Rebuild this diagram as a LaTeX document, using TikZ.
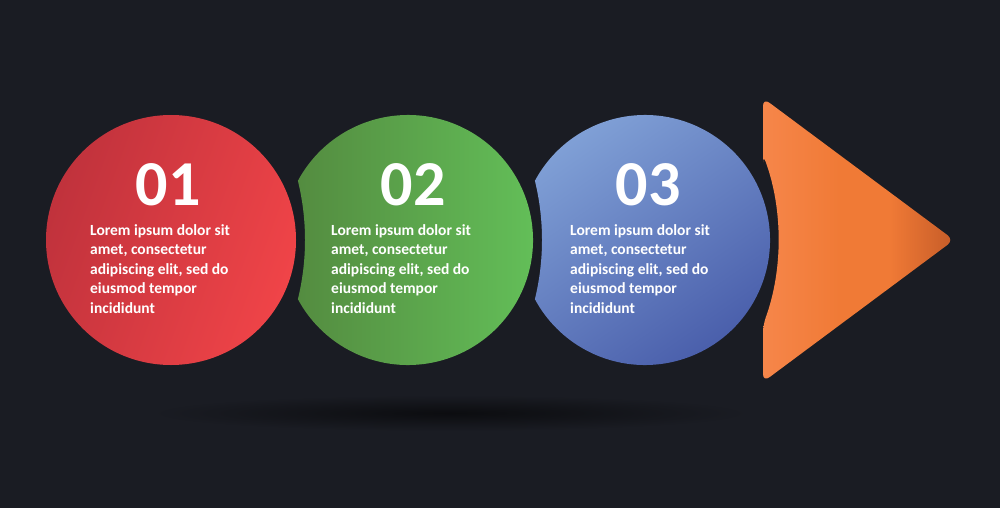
\documentclass[tikz,border=0pt]{standalone}
\usepackage{fontspec}
\setmainfont{Carlito}
\definecolor{bg}{RGB}{26,28,35}
\definecolor{redA}{RGB}{192,50,60}
\definecolor{redB}{RGB}{240,68,72}
\definecolor{greenA}{RGB}{84,140,64}
\definecolor{greenB}{RGB}{100,194,90}
\definecolor{blueA}{RGB}{128,160,214}
\definecolor{blueB}{RGB}{70,90,168}
\definecolor{orA}{RGB}{246,134,74}
\definecolor{orB}{RGB}{240,122,54}
\definecolor{orC}{RGB}{198,92,40}
\pgfdeclarehorizontalshading{orangeshade}{100bp}{color(0bp)=(orA); color(25bp)=(orA); color(45bp)=(orB); color(58bp)=(orB); color(75bp)=(orC); color(100bp)=(orC)}
\begin{document}
\begin{tikzpicture}[x=1pt,y=-1pt,
  num/.style={text=white,font=\bfseries\fontsize{64}{64}\selectfont,anchor=base,inner sep=0pt},
  body/.style={text=white,font=\bfseries\fontsize{15.5}{19.5}\selectfont,align=left,anchor=base west,inner sep=0pt}]
\fill[bg] (0,0) rectangle (1000,508);
\useasboundingbox (0,0) rectangle (1000,508);
% shadow
\shade[inner color=black!55!bg, outer color=bg] (450,413) ellipse[x radius=300, y radius=18];
% orange arrow head
\shade[shading=orangeshade, rounded corners=8pt]
  (763,155) -- (763,98) -- (954,240) -- (763,382) -- (763,325)
  arc[start angle=19.95, end angle=-19.95, radius=250] -- cycle;
% blue
\shade[top color=blueA, bottom color=blueB, shading angle=35]
  (645,240) ++(208.25:125) arc[start angle=208.25, end angle=511.75, radius=125]
  arc[start angle=13.7, end angle=-13.7, radius=250] -- cycle;
% green
\shade[left color=greenA, right color=greenB]
  (408,240) ++(208.25:125) arc[start angle=208.25, end angle=511.75, radius=125]
  arc[start angle=13.7, end angle=-13.7, radius=250] -- cycle;
% red
\shade[left color=redA, right color=redB, shading angle=70] (171,240) circle[radius=125];
% texts
\node[num] (n1) at (168,205) {01};
\node[num] (n2) at (413,205) {02};
\node[num] (n3) at (648,205) {03};
\node[body] (t1) at (90,313) {Lorem ipsum dolor sit\\amet, consectetur\\adipiscing elit, sed do\\eiusmod tempor\\incididunt};
\node[body] (t2) at (331,313) {Lorem ipsum dolor sit\\amet, consectetur\\adipiscing elit, sed do\\eiusmod tempor\\incididunt};
\node[body] (t3) at (570,313) {Lorem ipsum dolor sit\\amet, consectetur\\adipiscing elit, sed do\\eiusmod tempor\\incididunt};
\end{tikzpicture}
\end{document}
